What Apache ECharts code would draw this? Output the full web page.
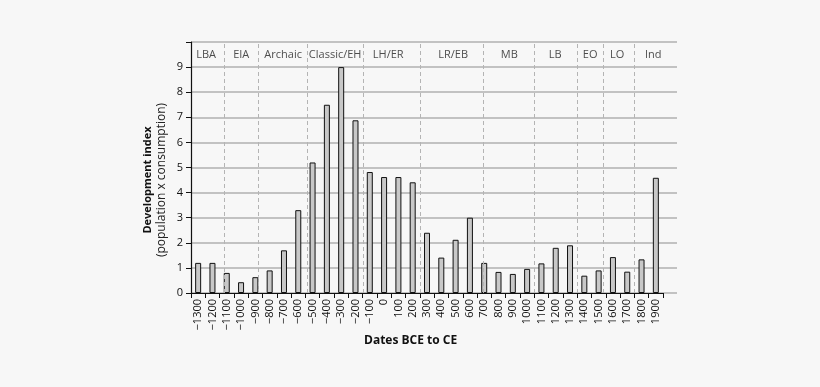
<html>
  <head>
    <meta charset="utf-8">
    <script src="https://cdnjs.cloudflare.com/ajax/libs/echarts/6.0.0/echarts.min.js"></script>
    <style>
      body { margin: 0; background-color: #f7f7f7; }
      #chart { width: 820px; height: 387px; }
    </style>
  </head>
  <body>
    <div id="chart"></div>
  </body>
  <script>
    // dates, BCE as negative
    var dates = ['\u22121300', '\u22121200', '\u22121100', '\u22121000', '\u2212900', '\u2212800', '\u2212700',
                 '\u2212600', '\u2212500', '\u2212400', '\u2212300', '\u2212200', '\u2212100', '0', '100', '200',
                 '300', '400', '500', '600', '700', '800', '900', '1000', '1100', '1200', '1300', '1400',
                 '1500', '1600', '1700', '1800', '1900'];
    var devIndex = [1.2, 1.2, 0.8, 0.43, 0.63, 0.9, 1.7, 3.3, 5.2, 7.5, 9.0, 6.88, 4.82, 4.62, 4.62, 4.41,
                    2.4, 1.41, 2.12, 3.0, 1.2, 0.84, 0.76, 0.96, 1.18, 1.8, 1.9, 0.69, 0.9, 1.43, 0.85, 1.34, 4.59];
    // period names, where their labels sit, and the dashed boundaries between them (in years)
    var periods = ['LBA', 'EIA', 'Archaic', 'Classic/EH', 'LH/ER', 'LR/EB', 'MB', 'LB', 'EO', 'LO', 'Ind'];
    var periodMid = [-1244, -999, -706, -342, 29, 483, 875, 1197, 1441, 1630, 1882];
    var periodBreaks = [-1116, -883, -540, -144, 255, 691, 1052, 1348, 1530, 1747];
    var yTicks = [0, 1, 2, 3, 4, 5, 6, 7, 8, 9];

    var font = 'Open Sans';
    var chart = echarts.init(document.getElementById('chart'));

    var labelData = [];
    for (let i in periods) {
        labelData.push({ name: periods[i], value: [periodMid[i], 9.5] });
    }
    var breakLines = [];
    for (let i in periodBreaks) {
        breakLines.push({ xAxis: periodBreaks[i] });
    }

    var opt = {
        backgroundColor: '#f7f7f7',
        animation: false,
        textStyle: { fontFamily: font },
        grid: [
            { left: 191, right: 157, top: 42, bottom: 94 },
            // wider back grid, only for the horizontal lines
            { left: 191, right: 143, top: 42, bottom: 94 }
        ],
        xAxis: [
            { type: 'category', data: dates, gridIndex: 0,
              axisLine: { onZero: false, lineStyle: { color: '#111', width: 1.2 } },
              axisTick: { show: true, length: 5, lineStyle: { color: '#111' } },
              axisLabel: { rotate: 90, color: '#111', fontSize: 11, margin: 6, fontFamily: font } },
            { type: 'value', gridIndex: 0, min: -1350, max: 1950, show: false },
            { type: 'value', gridIndex: 1, min: 0, max: 1, show: false }
        ],
        yAxis: [
            { type: 'value', gridIndex: 0, min: 0, max: 10, interval: 1,
              axisLine: { show: true, onZero: false, lineStyle: { color: '#111', width: 1.2 } },
              axisTick: { show: true, length: 5, lineStyle: { color: '#111' } },
              splitLine: { show: false },
              axisLabel: { color: '#111', fontSize: 11, margin: 8, fontFamily: font,
                           formatter: function (v) { return yTicks.indexOf(v) >= 0 ? v : ''; } } },
            { type: 'value', gridIndex: 1, min: 0, max: 10, interval: 1,
              axisLine: { show: false }, axisTick: { show: false }, axisLabel: { show: false },
              splitLine: { lineStyle: { color: '#c2c2c2', width: 2 } } }
        ],
        graphic: [
            { type: 'text', left: 364, top: 335,
              style: { text: 'Dates BCE to CE', font: 'bold 12px "Open Sans"', fill: '#111' } },
            { type: 'text', x: 155, y: 180, rotation: Math.PI / 2,
              style: { text: '{b|Development index}\n{n|(population x consumption)}',
                       align: 'center', verticalAlign: 'middle',
                       rich: {
                           b: { font: 'bold 11px "Open Sans"', fill: '#111', lineHeight: 14, align: 'center' },
                           n: { font: '12px "Open Sans"', fill: '#222', lineHeight: 14, align: 'center' } } } }
        ],
        series: [
            { type: 'line', xAxisIndex: 2, yAxisIndex: 1, data: [], silent: true },
            { type: 'bar', xAxisIndex: 0, yAxisIndex: 0, data: devIndex, barWidth: 6, z: 3,
              itemStyle: { color: '#c8c8c8', borderColor: '#111', borderWidth: 1 } },
            { type: 'scatter', xAxisIndex: 1, yAxisIndex: 0, data: labelData, symbolSize: 0,
              label: { show: true, position: 'inside', formatter: '{b}', color: '#222',
                       fontSize: 11, fontFamily: font },
              markLine: { symbol: 'none', silent: true, data: breakLines, label: { show: false },
                          lineStyle: { color: '#b4b4b4', type: [4, 3], width: 1 } } }
        ]
    };
    chart.setOption(opt);
  </script>
</html>
